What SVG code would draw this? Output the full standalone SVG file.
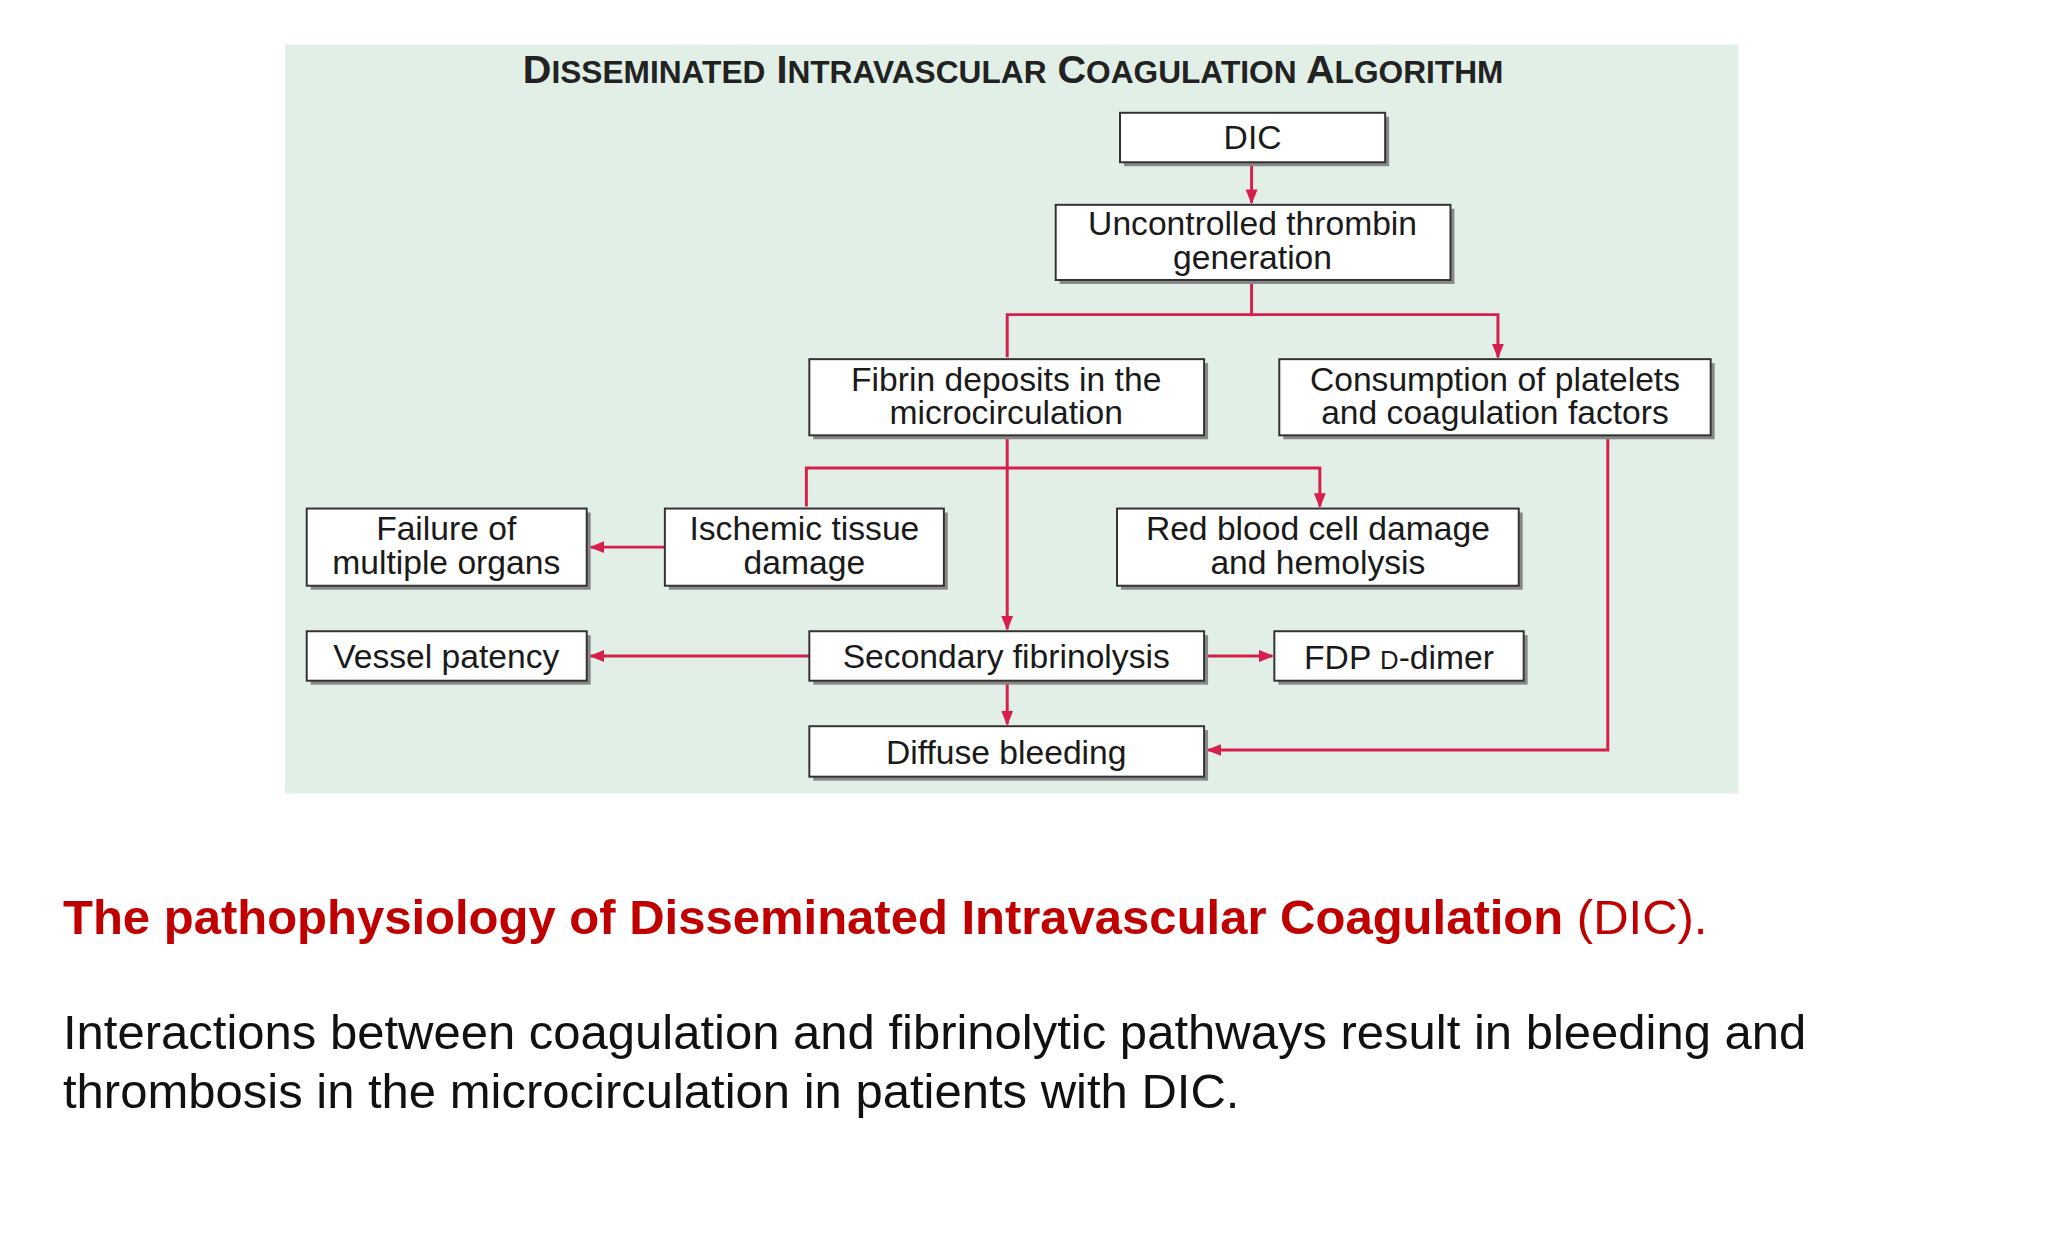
<svg xmlns="http://www.w3.org/2000/svg" width="2048" height="1243" viewBox="0 0 2048 1243">
<style>
.b{fill:#fff;stroke:#333;stroke-width:2}
.s{fill:#888}
.t{font-family:"Liberation Sans",Arial,sans-serif;font-size:34px;fill:#1a1a1a;text-anchor:middle}
.c{stroke:#d81e4c;stroke-width:3;fill:none}
</style>
<defs><marker id="a" viewBox="0 0 10 10" refX="9" refY="5" markerWidth="5" markerHeight="5" orient="auto"><path d="M0,1L10,5L0,9z" fill="#d81e4c"/></marker></defs>
<rect width="2048" height="1243" fill="#fff"/>
<g transform="scale(0.9894)">
<rect x="288" y="45" width="1469" height="757" fill="#e1efe6"/>
<text x="1024" y="84" font-family="Liberation Sans,Arial,sans-serif" font-weight="bold" font-size="40" fill="#222" text-anchor="middle">D<tspan font-size="32">ISSEMINATED</tspan> I<tspan font-size="32">NTRAVASCULAR</tspan> C<tspan font-size="32">OAGULATION</tspan> A<tspan font-size="32">LGORITHM</tspan></text>
<g id="connectors">
<path class="c" d="M1265,164V205" marker-end="url(#a)"/>
<path class="c" d="M1265,283V318H1018V361M1265,318H1514V361" marker-end="url(#a)"/>
<path class="c" d="M1018,440V636" marker-end="url(#a)"/>
<path class="c" d="M1018,473H815V512M1018,473H1334V512" marker-end="url(#a)"/>
<path class="c" d="M672,553H597" marker-end="url(#a)"/>
<path class="c" d="M818,663H597" marker-end="url(#a)"/>
<path class="c" d="M1217,663H1286" marker-end="url(#a)"/>
<path class="c" d="M1018,688V732" marker-end="url(#a)"/>
<path class="c" d="M1625,440V758H1221" marker-end="url(#a)"/>
</g>
<g id="n1"><rect class="s" x="1136" y="118" width="268" height="50"/><rect class="b" x="1132" y="114" width="268" height="50"/><text class="t" x="1266" y="151">DIC</text></g>
<g id="n2"><rect class="s" x="1071" y="211" width="399" height="76"/><rect class="b" x="1067" y="207" width="399" height="76"/><text class="t" x="1266" y="238">Uncontrolled thrombin</text><text class="t" x="1266" y="272">generation</text></g>
<g id="n3"><rect class="s" x="822" y="367" width="399" height="77"/><rect class="b" x="818" y="363" width="399" height="77"/><text class="t" x="1017" y="395">Fibrin deposits in the</text><text class="t" x="1017" y="429">microcirculation</text></g>
<g id="n4"><rect class="s" x="1297" y="367" width="436" height="77"/><rect class="b" x="1293" y="363" width="436" height="77"/><text class="t" x="1511" y="395">Consumption of platelets</text><text class="t" x="1511" y="429">and coagulation factors</text></g>
<g id="n5"><rect class="s" x="314" y="518" width="283" height="78"/><rect class="b" x="310" y="514" width="283" height="78"/><text class="t" x="451" y="546">Failure of</text><text class="t" x="451" y="580">multiple organs</text></g>
<g id="n6"><rect class="s" x="676" y="518" width="282" height="78"/><rect class="b" x="672" y="514" width="282" height="78"/><text class="t" x="813" y="546">Ischemic tissue</text><text class="t" x="813" y="580">damage</text></g>
<g id="n7"><rect class="s" x="1133" y="518" width="406" height="78"/><rect class="b" x="1129" y="514" width="406" height="78"/><text class="t" x="1332" y="546">Red blood cell damage</text><text class="t" x="1332" y="580">and hemolysis</text></g>
<g id="n8"><rect class="s" x="314" y="642" width="283" height="50"/><rect class="b" x="310" y="638" width="283" height="50"/><text class="t" x="451" y="675">Vessel patency</text></g>
<g id="n9"><rect class="s" x="822" y="642" width="399" height="50"/><rect class="b" x="818" y="638" width="399" height="50"/><text class="t" x="1017" y="675">Secondary fibrinolysis</text></g>
<g id="n10"><rect class="s" x="1292" y="642" width="252" height="50"/><rect class="b" x="1288" y="638" width="252" height="50"/><text class="t" x="1414" y="676">FDP <tspan font-size="26">D</tspan>-dimer</text></g>
<g id="n11"><rect class="s" x="822" y="738" width="399" height="51"/><rect class="b" x="818" y="734" width="399" height="51"/><text class="t" x="1017" y="772">Diffuse bleeding</text></g>
</g>
<text x="63" y="934" font-family="Liberation Sans,Arial,sans-serif" font-size="49" fill="#c00000"><tspan font-weight="bold">The pathophysiology of Disseminated Intravascular Coagulation</tspan> (DIC).</text>
<text font-family="Liberation Sans,Arial,sans-serif" font-size="49" fill="#111"><tspan x="63" y="1049">Interactions between coagulation and fibrinolytic pathways result in bleeding and</tspan><tspan x="63" y="1108">thrombosis in the microcirculation in patients with DIC.</tspan></text>
</svg>
